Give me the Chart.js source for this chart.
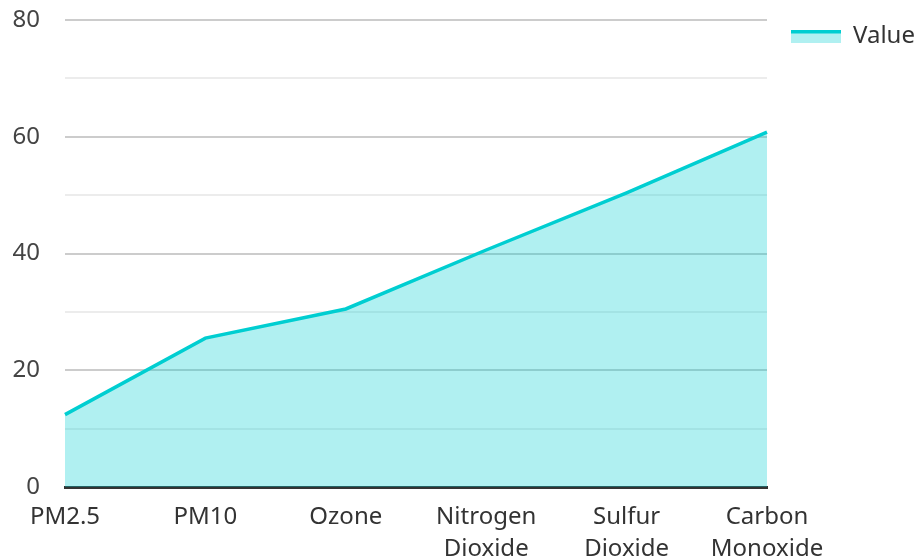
<!DOCTYPE html>
<html>
<head>
<meta charset="utf-8">
<script src="https://cdn.jsdelivr.net/npm/chart.js@4.4.1/dist/chart.umd.min.js"></script>
<style>
html,body{margin:0;padding:0;background:#fff;}
#wrap{width:917px;height:559px;}
</style>
</head>
<body>
<div id="wrap"><canvas id="chart"></canvas></div>
<script>
/* Data */
const categories=["PM2.5","PM10","Ozone",["Nitrogen","Dioxide"],["Sulfur","Dioxide"],["Carbon","Monoxide"]];
const values=[12.4,25.5,30.5,40.6,50.4,60.8];
const seriesName="Value";

const lineColor="rgb(0,206,209)";
const fillColor="rgba(0,206,209,0.31)";

/* legend swatch: fill with a line on top */
const swatch=document.createElement("canvas");
swatch.width=50;swatch.height=13;
const sc=swatch.getContext("2d");
sc.fillStyle=fillColor;sc.fillRect(0,0,50,13);
sc.fillStyle=lineColor;sc.fillRect(0,0,50,4);

Chart.defaults.font.family="'Noto Sans', sans-serif";
Chart.defaults.font.size=24;
Chart.defaults.color="#333";

new Chart(document.getElementById("chart"),{
type:"line",
data:{
labels:categories,
datasets:[{
label:seriesName,
data:values,
borderColor:lineColor,
backgroundColor:fillColor,
borderWidth:3.5,
fill:"origin",
tension:0,
pointRadius:0,
pointStyle:swatch
}]
},
options:{
responsive:true,
maintainAspectRatio:false,
animation:false,
layout:{padding:{top:0,right:0,left:0,bottom:0}},
plugins:{
legend:{
position:"right",
align:"start",
maxWidth:150,
labels:{
usePointStyle:true,
pointStyleWidth:50,
padding:24,
color:"#333",
font:{size:24}
}
},
tooltip:{enabled:false}
},
scales:{
x:{
offset:false,
grid:{display:false,drawTicks:false},
border:{display:true,color:"#333",width:3},
ticks:{padding:15,maxRotation:0,autoSkip:false,color:"#333",font:{size:24,lineHeight:1.3}},
afterFit:function(s){s.height=72;}
},
y:{
min:0,
max:80,
ticks:{
stepSize:10,
padding:25,
color:"#444",
callback:function(v){return v%20===0?v:"";}
},
grid:{
drawTicks:false,
color:function(ctx){return ctx.tick.value%20===0?"#cccccc":"#ececec";},
lineWidth:2
},
border:{display:false},
afterFit:function(s){s.width=65;s.paddingTop=20;s.paddingBottom=0;}
}
}
}
});
</script>
</body>
</html>
